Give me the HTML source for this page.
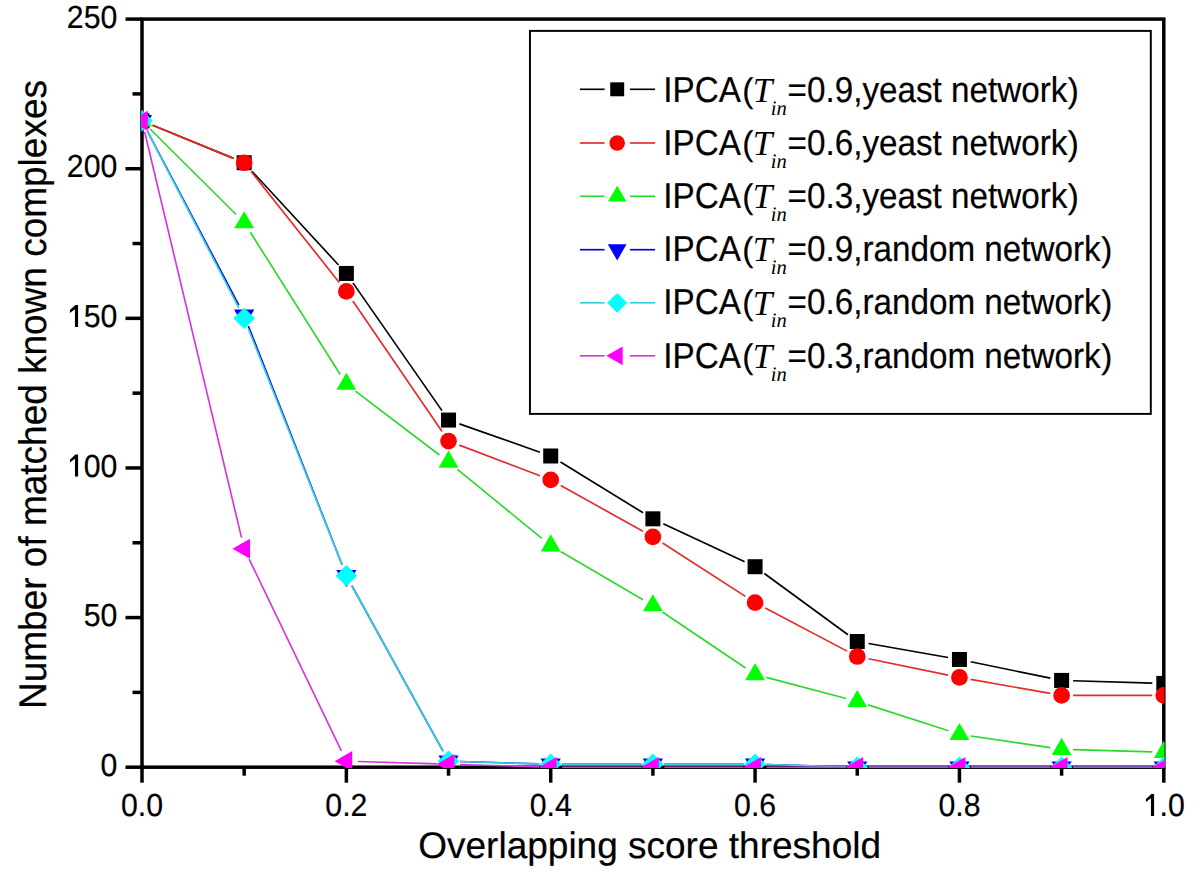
<!DOCTYPE html>
<html><head><meta charset="utf-8"><style>
html,body{margin:0;padding:0;background:#fff;overflow:hidden;}
svg{display:block;}
text{text-rendering:geometricPrecision;font-family:"Liberation Sans",sans-serif;fill:#000;stroke:#000;stroke-width:0.2px;}
.tk{font-size:32px;}
.xl{font-size:37.0px;}
.yl{font-size:38.6px;}
.lg{font-size:35.9px;}
.T{stroke:none;font-family:"Liberation Serif",serif;font-style:italic;font-size:35.2px;}
.sub{stroke:none;font-family:"Liberation Serif",serif;font-style:italic;font-size:20.6px;}
</style></head><body>
<svg width="1200" height="888" viewBox="0 0 1200 888">
<defs><clipPath id="cp"><rect x="141.4" y="0" width="1023.20" height="767.9"/></clipPath></defs>
<rect x="142.00" y="19.1" width="1021.80" height="748.10" fill="none" stroke="#000" stroke-width="3.5"/>
<g stroke="#000" stroke-width="3.5" stroke-linecap="butt">
<line x1="125.50" y1="767.20" x2="142.00" y2="767.20"/>
<line x1="132.50" y1="692.39" x2="142.00" y2="692.39"/>
<line x1="125.50" y1="617.58" x2="142.00" y2="617.58"/>
<line x1="132.50" y1="542.77" x2="142.00" y2="542.77"/>
<line x1="125.50" y1="467.96" x2="142.00" y2="467.96"/>
<line x1="132.50" y1="393.15" x2="142.00" y2="393.15"/>
<line x1="125.50" y1="318.34" x2="142.00" y2="318.34"/>
<line x1="132.50" y1="243.53" x2="142.00" y2="243.53"/>
<line x1="125.50" y1="168.72" x2="142.00" y2="168.72"/>
<line x1="132.50" y1="93.91" x2="142.00" y2="93.91"/>
<line x1="125.50" y1="19.10" x2="142.00" y2="19.10"/>
<line x1="142.00" y1="767.20" x2="142.00" y2="782.70"/>
<line x1="244.18" y1="767.20" x2="244.18" y2="775.70"/>
<line x1="346.36" y1="767.20" x2="346.36" y2="782.70"/>
<line x1="448.54" y1="767.20" x2="448.54" y2="775.70"/>
<line x1="550.72" y1="767.20" x2="550.72" y2="782.70"/>
<line x1="652.90" y1="767.20" x2="652.90" y2="775.70"/>
<line x1="755.08" y1="767.20" x2="755.08" y2="782.70"/>
<line x1="857.26" y1="767.20" x2="857.26" y2="775.70"/>
<line x1="959.44" y1="767.20" x2="959.44" y2="782.70"/>
<line x1="1061.62" y1="767.20" x2="1061.62" y2="775.70"/>
<line x1="1163.80" y1="767.20" x2="1163.80" y2="782.70"/>
</g>
<text transform="translate(117.3,775.80) scale(0.945,1)" text-anchor="end" class="tk">0</text>
<text transform="translate(117.3,626.18) scale(0.945,1)" text-anchor="end" class="tk">50</text>
<path d="M78.10,476.56 L78.10,454.56 L75.40,454.56 L69.90,459.66 L69.90,462.56 L74.95,458.76 L74.95,476.56 Z" fill="#000"/>
<text transform="translate(117.3,476.56) scale(0.945,1)" text-anchor="end" class="tk"><tspan style="fill:none;stroke:none">1</tspan>00</text>
<path d="M78.10,326.94 L78.10,304.94 L75.40,304.94 L69.90,310.04 L69.90,312.94 L74.95,309.14 L74.95,326.94 Z" fill="#000"/>
<text transform="translate(117.3,326.94) scale(0.945,1)" text-anchor="end" class="tk"><tspan style="fill:none;stroke:none">1</tspan>50</text>
<text transform="translate(117.3,177.32) scale(0.945,1)" text-anchor="end" class="tk">200</text>
<text transform="translate(117.3,27.70) scale(0.945,1)" text-anchor="end" class="tk">250</text>
<text transform="translate(142.00,816.2) scale(0.945,1)" text-anchor="middle" class="tk">0.0</text>
<text transform="translate(346.36,816.2) scale(0.945,1)" text-anchor="middle" class="tk">0.2</text>
<text transform="translate(550.72,816.2) scale(0.945,1)" text-anchor="middle" class="tk">0.4</text>
<text transform="translate(755.08,816.2) scale(0.945,1)" text-anchor="middle" class="tk">0.6</text>
<text transform="translate(959.44,816.2) scale(0.945,1)" text-anchor="middle" class="tk">0.8</text>
<path d="M1154.10,816.00 L1154.10,794.00 L1151.40,794.00 L1145.90,799.10 L1145.90,802.00 L1150.95,798.20 L1150.95,816.00 Z" fill="#000"/>
<text transform="translate(1163.80,816.2) scale(0.945,1)" text-anchor="middle" class="tk"><tspan style="fill:none;stroke:none">1</tspan>.0</text>
<g clip-path="url(#cp)">
<g stroke="#000000" stroke-width="1.65">
<line x1="152.64" y1="125.20" x2="233.54" y2="158.37"/>
<line x1="251.98" y1="171.19" x2="338.56" y2="265.00"/>
<line x1="352.93" y1="282.89" x2="441.97" y2="410.65"/>
<line x1="459.39" y1="423.89" x2="539.87" y2="452.18"/>
<line x1="560.52" y1="462.01" x2="643.10" y2="512.81"/>
<line x1="663.31" y1="523.71" x2="744.67" y2="561.83"/>
<line x1="764.36" y1="573.50" x2="847.98" y2="634.73"/>
<line x1="868.59" y1="643.51" x2="948.11" y2="657.48"/>
<line x1="970.71" y1="661.78" x2="1050.35" y2="678.11"/>
<line x1="1073.12" y1="680.76" x2="1152.30" y2="683.08"/>
</g>
<g>
<rect x="134.50" y="113.34" width="15.00" height="15.00" fill="#000000"/>
<rect x="236.68" y="155.24" width="15.00" height="15.00" fill="#000000"/>
<rect x="338.86" y="265.95" width="15.00" height="15.00" fill="#000000"/>
<rect x="441.04" y="412.58" width="15.00" height="15.00" fill="#000000"/>
<rect x="543.22" y="448.49" width="15.00" height="15.00" fill="#000000"/>
<rect x="645.40" y="511.33" width="15.00" height="15.00" fill="#000000"/>
<rect x="747.58" y="559.21" width="15.00" height="15.00" fill="#000000"/>
<rect x="849.76" y="634.02" width="15.00" height="15.00" fill="#000000"/>
<rect x="951.94" y="651.97" width="15.00" height="15.00" fill="#000000"/>
<rect x="1054.12" y="672.92" width="15.00" height="15.00" fill="#000000"/>
<rect x="1156.30" y="675.91" width="15.00" height="15.00" fill="#000000"/>
</g>
<g stroke="#e42a2a" stroke-width="1.65">
<line x1="152.64" y1="125.20" x2="233.54" y2="158.37"/>
<line x1="251.33" y1="171.74" x2="339.21" y2="282.40"/>
<line x1="352.85" y1="300.91" x2="442.05" y2="431.53"/>
<line x1="459.29" y1="445.12" x2="539.97" y2="475.84"/>
<line x1="560.77" y1="485.52" x2="642.85" y2="531.19"/>
<line x1="662.57" y1="543.01" x2="745.41" y2="596.39"/>
<line x1="765.25" y1="607.98" x2="847.09" y2="651.12"/>
<line x1="868.53" y1="658.79" x2="948.17" y2="675.12"/>
<line x1="970.77" y1="679.42" x2="1050.29" y2="693.39"/>
<line x1="1073.12" y1="695.38" x2="1152.30" y2="695.38"/>
</g>
<g>
<circle cx="142.00" cy="120.84" r="8.35" fill="#ff0000"/>
<circle cx="244.18" cy="162.74" r="8.35" fill="#ff0000"/>
<circle cx="346.36" cy="291.41" r="8.35" fill="#ff0000"/>
<circle cx="448.54" cy="441.03" r="8.35" fill="#ff0000"/>
<circle cx="550.72" cy="479.93" r="8.35" fill="#ff0000"/>
<circle cx="652.90" cy="536.79" r="8.35" fill="#ff0000"/>
<circle cx="755.08" cy="602.62" r="8.35" fill="#ff0000"/>
<circle cx="857.26" cy="656.48" r="8.35" fill="#ff0000"/>
<circle cx="959.44" cy="677.43" r="8.35" fill="#ff0000"/>
<circle cx="1061.62" cy="695.38" r="8.35" fill="#ff0000"/>
<circle cx="1163.80" cy="695.38" r="8.35" fill="#ff0000"/>
</g>
<g stroke="#2cd82c" stroke-width="1.65">
<line x1="150.15" y1="128.96" x2="236.03" y2="214.47"/>
<line x1="250.33" y1="232.30" x2="340.21" y2="374.45"/>
<line x1="355.51" y1="391.14" x2="439.39" y2="455.01"/>
<line x1="457.43" y1="469.27" x2="541.83" y2="538.47"/>
<line x1="560.64" y1="551.57" x2="642.98" y2="599.80"/>
<line x1="662.44" y1="612.03" x2="745.54" y2="668.01"/>
<line x1="766.20" y1="677.37" x2="846.14" y2="698.44"/>
<line x1="868.21" y1="704.89" x2="948.49" y2="730.76"/>
<line x1="970.82" y1="735.95" x2="1050.24" y2="747.58"/>
<line x1="1073.12" y1="749.58" x2="1152.30" y2="751.90"/>
</g>
<g>
<polygon points="142.00,109.44 151.90,126.54 132.10,126.54" fill="#00ff00"/>
<polygon points="244.18,211.18 254.08,228.28 234.28,228.28" fill="#00ff00"/>
<polygon points="346.36,372.77 356.26,389.87 336.46,389.87" fill="#00ff00"/>
<polygon points="448.54,450.58 458.44,467.68 438.64,467.68" fill="#00ff00"/>
<polygon points="550.72,534.36 560.62,551.46 540.82,551.46" fill="#00ff00"/>
<polygon points="652.90,594.21 662.80,611.31 643.00,611.31" fill="#00ff00"/>
<polygon points="755.08,663.04 764.98,680.14 745.18,680.14" fill="#00ff00"/>
<polygon points="857.26,689.97 867.16,707.07 847.36,707.07" fill="#00ff00"/>
<polygon points="959.44,722.88 969.34,739.98 949.54,739.98" fill="#00ff00"/>
<polygon points="1061.62,737.85 1071.52,754.95 1051.72,754.95" fill="#00ff00"/>
<polygon points="1163.80,740.84 1173.70,757.94 1153.90,757.94" fill="#00ff00"/>
</g>
<g stroke="#0000e0" stroke-width="1.65">
<line x1="147.35" y1="131.02" x2="238.83" y2="305.17"/>
<line x1="248.38" y1="326.05" x2="342.16" y2="564.98"/>
<line x1="351.91" y1="585.76" x2="442.99" y2="751.14"/>
<line x1="460.04" y1="761.55" x2="539.22" y2="763.87"/>
<line x1="562.22" y1="764.21" x2="641.40" y2="764.21"/>
<line x1="664.40" y1="764.21" x2="743.58" y2="764.21"/>
<line x1="766.58" y1="764.54" x2="845.76" y2="766.86"/>
<line x1="868.76" y1="767.20" x2="947.94" y2="767.20"/>
<line x1="970.94" y1="767.20" x2="1050.12" y2="767.20"/>
<line x1="1073.12" y1="767.20" x2="1152.30" y2="767.20"/>
</g>
<g>
<polygon points="131.90,115.04 152.10,115.04 142.00,132.44" fill="#0000ff"/>
<polygon points="234.08,309.55 254.28,309.55 244.18,326.95" fill="#0000ff"/>
<polygon points="336.26,569.89 356.46,569.89 346.36,587.29" fill="#0000ff"/>
<polygon points="438.44,755.42 458.64,755.42 448.54,772.82" fill="#0000ff"/>
<polygon points="540.62,758.41 560.82,758.41 550.72,775.81" fill="#0000ff"/>
<polygon points="642.80,758.41 663.00,758.41 652.90,775.81" fill="#0000ff"/>
<polygon points="744.98,758.41 765.18,758.41 755.08,775.81" fill="#0000ff"/>
<polygon points="847.16,761.40 867.36,761.40 857.26,778.80" fill="#0000ff"/>
<polygon points="949.34,761.40 969.54,761.40 959.44,778.80" fill="#0000ff"/>
<polygon points="1051.52,761.40 1071.72,761.40 1061.62,778.80" fill="#0000ff"/>
<polygon points="1153.70,761.40 1173.90,761.40 1163.80,778.80" fill="#0000ff"/>
</g>
<g stroke="#34d2e0" stroke-width="1.65">
<line x1="147.28" y1="131.06" x2="238.90" y2="308.13"/>
<line x1="248.42" y1="329.03" x2="342.12" y2="565.00"/>
<line x1="351.91" y1="585.76" x2="442.99" y2="751.14"/>
<line x1="460.04" y1="761.55" x2="539.22" y2="763.87"/>
<line x1="562.22" y1="764.21" x2="641.40" y2="764.21"/>
<line x1="664.40" y1="764.21" x2="743.58" y2="764.21"/>
<line x1="766.58" y1="764.54" x2="845.76" y2="766.86"/>
<line x1="868.76" y1="767.20" x2="947.94" y2="767.20"/>
<line x1="970.94" y1="767.20" x2="1050.12" y2="767.20"/>
<line x1="1073.12" y1="767.20" x2="1152.30" y2="767.20"/>
</g>
<g>
<polygon points="142.00,110.24 152.80,120.84 142.00,131.44 131.20,120.84" fill="#00ffff"/>
<polygon points="244.18,307.74 254.98,318.34 244.18,328.94 233.38,318.34" fill="#00ffff"/>
<polygon points="346.36,565.09 357.16,575.69 346.36,586.29 335.56,575.69" fill="#00ffff"/>
<polygon points="448.54,750.62 459.34,761.22 448.54,771.82 437.74,761.22" fill="#00ffff"/>
<polygon points="550.72,753.61 561.52,764.21 550.72,774.81 539.92,764.21" fill="#00ffff"/>
<polygon points="652.90,753.61 663.70,764.21 652.90,774.81 642.10,764.21" fill="#00ffff"/>
<polygon points="755.08,753.61 765.88,764.21 755.08,774.81 744.28,764.21" fill="#00ffff"/>
<polygon points="857.26,756.60 868.06,767.20 857.26,777.80 846.46,767.20" fill="#00ffff"/>
<polygon points="959.44,756.60 970.24,767.20 959.44,777.80 948.64,767.20" fill="#00ffff"/>
<polygon points="1061.62,756.60 1072.42,767.20 1061.62,777.80 1050.82,767.20" fill="#00ffff"/>
<polygon points="1163.80,756.60 1174.60,767.20 1163.80,777.80 1153.00,767.20" fill="#00ffff"/>
</g>
<g stroke="#d634de" stroke-width="1.65">
<line x1="144.67" y1="132.03" x2="241.51" y2="537.57"/>
<line x1="249.16" y1="559.12" x2="341.38" y2="750.85"/>
<line x1="357.86" y1="761.55" x2="437.04" y2="763.87"/>
<line x1="460.04" y1="764.54" x2="539.22" y2="766.86"/>
<line x1="562.22" y1="767.20" x2="641.40" y2="767.20"/>
<line x1="664.40" y1="767.20" x2="743.58" y2="767.20"/>
<line x1="766.58" y1="767.20" x2="845.76" y2="767.20"/>
<line x1="868.76" y1="767.20" x2="947.94" y2="767.20"/>
<line x1="970.94" y1="767.20" x2="1050.12" y2="767.20"/>
<line x1="1073.12" y1="767.20" x2="1152.30" y2="767.20"/>
</g>
<g>
<polygon points="130.27,120.84 147.87,110.74 147.87,130.94" fill="#ff00ff"/>
<polygon points="232.45,548.75 250.05,538.65 250.05,558.85" fill="#ff00ff"/>
<polygon points="334.63,761.22 352.23,751.12 352.23,771.32" fill="#ff00ff"/>
<polygon points="436.81,764.21 454.41,754.11 454.41,774.31" fill="#ff00ff"/>
<polygon points="538.99,767.20 556.59,757.10 556.59,777.30" fill="#ff00ff"/>
<polygon points="641.17,767.20 658.77,757.10 658.77,777.30" fill="#ff00ff"/>
<polygon points="743.35,767.20 760.95,757.10 760.95,777.30" fill="#ff00ff"/>
<polygon points="845.53,767.20 863.13,757.10 863.13,777.30" fill="#ff00ff"/>
<polygon points="947.71,767.20 965.31,757.10 965.31,777.30" fill="#ff00ff"/>
<polygon points="1049.89,767.20 1067.49,757.10 1067.49,777.30" fill="#ff00ff"/>
<polygon points="1152.07,767.20 1169.67,757.10 1169.67,777.30" fill="#ff00ff"/>
</g>
</g>
<rect x="529.95" y="30.9" width="620.85" height="383" fill="none" stroke="#000" stroke-width="1.95"/>
<line x1="579.9" y1="89.30" x2="604.6" y2="89.30" stroke="#000000" stroke-width="1.65"/>
<line x1="629.9" y1="89.30" x2="655.1" y2="89.30" stroke="#000000" stroke-width="1.65"/>
<rect x="610.23" y="82.33" width="13.95" height="13.95" fill="#000000"/>
<text transform="translate(663.31,101.90) scale(0.9262,1)" class="lg">IPCA</text>
<text transform="translate(742.3,101.90) scale(0.9262,0.948)" class="lg">(</text>
<text x="752.84" y="102.00" class="T">T</text>
<text x="770.66" y="114.90" class="sub">in</text>
<text transform="translate(787.54,101.90) scale(0.9262,1)" class="lg">=0.9,yeast network</text>
<text transform="translate(1067.72,101.90) scale(0.9262,0.948)" class="lg">)</text>
<line x1="579.9" y1="143.00" x2="604.6" y2="143.00" stroke="#e42a2a" stroke-width="1.65"/>
<line x1="629.9" y1="143.00" x2="655.1" y2="143.00" stroke="#e42a2a" stroke-width="1.65"/>
<circle cx="617.20" cy="143.00" r="7.77" fill="#ff0000"/>
<text transform="translate(663.31,155.04) scale(0.9262,1)" class="lg">IPCA</text>
<text transform="translate(742.3,155.04) scale(0.9262,0.948)" class="lg">(</text>
<text x="752.84" y="155.14" class="T">T</text>
<text x="770.66" y="168.04" class="sub">in</text>
<text transform="translate(787.54,155.04) scale(0.9262,1)" class="lg">=0.6,yeast network</text>
<text transform="translate(1067.72,155.04) scale(0.9262,0.948)" class="lg">)</text>
<line x1="579.9" y1="196.30" x2="604.6" y2="196.30" stroke="#2cd82c" stroke-width="1.65"/>
<line x1="629.9" y1="196.30" x2="655.1" y2="196.30" stroke="#2cd82c" stroke-width="1.65"/>
<polygon points="617.20,185.70 626.41,201.60 607.99,201.60" fill="#00ff00"/>
<text transform="translate(663.31,208.18) scale(0.9262,1)" class="lg">IPCA</text>
<text transform="translate(742.3,208.18) scale(0.9262,0.948)" class="lg">(</text>
<text x="752.84" y="208.28" class="T">T</text>
<text x="770.66" y="221.18" class="sub">in</text>
<text transform="translate(787.54,208.18) scale(0.9262,1)" class="lg">=0.3,yeast network</text>
<text transform="translate(1067.72,208.18) scale(0.9262,0.948)" class="lg">)</text>
<line x1="579.9" y1="249.70" x2="604.6" y2="249.70" stroke="#0000e0" stroke-width="1.65"/>
<line x1="629.9" y1="249.70" x2="655.1" y2="249.70" stroke="#0000e0" stroke-width="1.65"/>
<polygon points="607.81,244.31 626.59,244.31 617.20,260.49" fill="#0000ff"/>
<text transform="translate(663.31,261.32) scale(0.9262,1)" class="lg">IPCA</text>
<text transform="translate(742.3,261.32) scale(0.9262,0.948)" class="lg">(</text>
<text x="752.84" y="261.42" class="T">T</text>
<text x="770.66" y="274.32" class="sub">in</text>
<text transform="translate(787.54,261.32) scale(0.9262,1)" class="lg">=0.9,random network</text>
<text transform="translate(1101.32,261.32) scale(0.9262,0.948)" class="lg">)</text>
<line x1="579.9" y1="302.80" x2="604.6" y2="302.80" stroke="#34d2e0" stroke-width="1.65"/>
<line x1="629.9" y1="302.80" x2="655.1" y2="302.80" stroke="#34d2e0" stroke-width="1.65"/>
<polygon points="617.20,292.94 627.24,302.80 617.20,312.66 607.16,302.80" fill="#00ffff"/>
<text transform="translate(663.31,314.46) scale(0.9262,1)" class="lg">IPCA</text>
<text transform="translate(742.3,314.46) scale(0.9262,0.948)" class="lg">(</text>
<text x="752.84" y="314.56" class="T">T</text>
<text x="770.66" y="327.46" class="sub">in</text>
<text transform="translate(787.54,314.46) scale(0.9262,1)" class="lg">=0.6,random network</text>
<text transform="translate(1101.32,314.46) scale(0.9262,0.948)" class="lg">)</text>
<line x1="579.9" y1="355.80" x2="604.6" y2="355.80" stroke="#d634de" stroke-width="1.65"/>
<line x1="629.9" y1="355.80" x2="655.1" y2="355.80" stroke="#d634de" stroke-width="1.65"/>
<polygon points="606.29,355.80 622.66,346.41 622.66,365.19" fill="#ff00ff"/>
<text transform="translate(663.31,367.60) scale(0.9262,1)" class="lg">IPCA</text>
<text transform="translate(742.3,367.60) scale(0.9262,0.948)" class="lg">(</text>
<text x="752.84" y="367.70" class="T">T</text>
<text x="770.66" y="380.60" class="sub">in</text>
<text transform="translate(787.54,367.60) scale(0.9262,1)" class="lg">=0.3,random network</text>
<text transform="translate(1101.32,367.60) scale(0.9262,0.948)" class="lg">)</text>
<text transform="translate(418.25,857.6)" class="xl">Overlapping score threshold</text>
<text transform="translate(46.0,708.96) rotate(-90) scale(0.9585,1)" class="yl">Number of matched known complexes</text>
</svg>
</body></html>
